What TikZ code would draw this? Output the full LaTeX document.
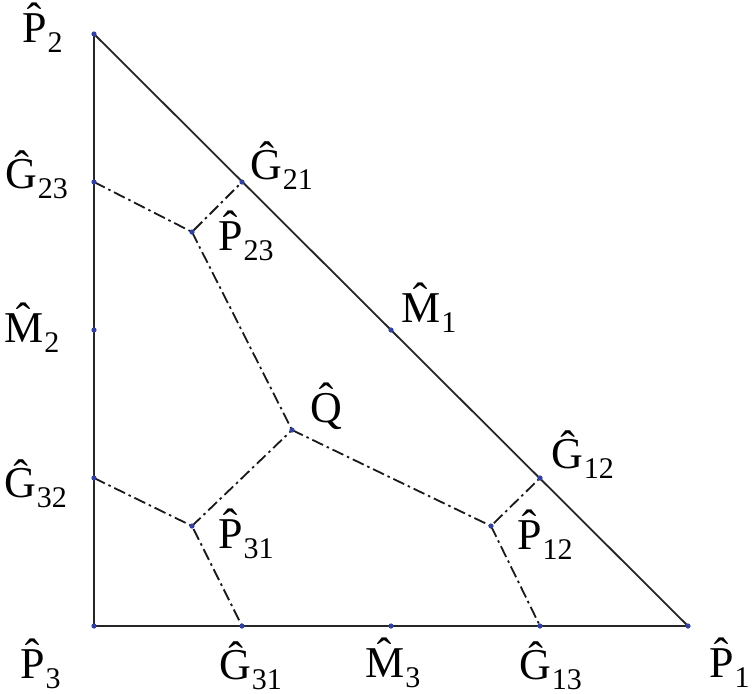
\documentclass[tikz,border=0pt]{standalone}
\usepackage{fontspec}
\setmainfont{Liberation Serif}
\definecolor{dotblue}{RGB}{50,65,160}
\newcommand{\hlbl}[2]{\^{#1}\kern1pt\raisebox{-10pt}{\fontsize{30}{30}\selectfont #2}}

\begin{document}
\begin{tikzpicture}[x=1pt,y=-1pt,
        side/.style={line width=1.8pt, black!85},
        ridge/.style={line width=1.8pt, black!90, dash pattern=on 12pt off 4pt on 2.5pt off 4pt},
        lbl/.style={anchor=base west, inner sep=0pt, font=\fontsize{44}{44}\selectfont}]
        \useasboundingbox (0,0) rectangle (753,694);

        % vertices
        \coordinate (P1) at (688,626);
        \coordinate (P2) at (94,34);
        \coordinate (P3) at (94,626);

        % points on the sides
        \coordinate (G23) at (94,182);
        \coordinate (M2)  at (94,330);
        \coordinate (G32) at (94,478);
        \coordinate (G21) at (242,182);
        \coordinate (M1)  at (391,330);
        \coordinate (G12) at (540,478);
        \coordinate (G31) at (242,626);
        \coordinate (M3)  at (391,626);
        \coordinate (G13) at (540,626);

        % inner points
        \coordinate (P23) at (192,232);
        \coordinate (Q)   at (292,430);
        \coordinate (P31) at (192,526);
        \coordinate (P12) at (491,526);

        \draw[side] (P2) -- (P3) -- (P1) -- cycle;

        \draw[ridge] (G23) -- (P23) -- (G21);
        \draw[ridge] (P23) -- (Q);
        \draw[ridge] (G32) -- (P31) -- (G31);
        \draw[ridge] (P31) -- (Q);
        \draw[ridge] (Q) -- (P12) -- (G12);
        \draw[ridge] (P12) -- (G13);

        \foreach \p in {P1,P2,P3,G23,M2,G32,G21,M1,G12,G31,M3,G13,P23,Q,P31,P12}
            \fill[dotblue] (\p) circle (2.6pt);

        % labels
        \node[lbl] (lP2)  at (22,42)   {\hlbl{P}{2}};
        \node[lbl] (lG23) at (5,188)   {\hlbl{G}{23}};
        \node[lbl] (lM2)  at (4,342)   {\hlbl{M}{2}};
        \node[lbl] (lG32) at (4,497)   {\hlbl{G}{32}};
        \node[lbl] (lP3)  at (20,678)  {\hlbl{P}{3}};
        \node[lbl] (lG21) at (250,179) {\hlbl{G}{21}};
        \node[lbl] (lP23) at (218,250) {\hlbl{P}{23}};
        \node[lbl] (lM1)  at (401,322) {\hlbl{M}{1}};
        \node[lbl] (lQ)   at (310,422) {\hlbl{Q}{}};
        \node[lbl] (lG12) at (551,468) {\hlbl{G}{12}};
        \node[lbl] (lP31) at (218,548) {\hlbl{P}{31}};
        \node[lbl] (lP12) at (517,549) {\hlbl{P}{12}};
        \node[lbl] (lG31) at (219,679) {\hlbl{G}{31}};
        \node[lbl] (lM3)  at (365,677) {\hlbl{M}{3}};
        \node[lbl] (lG13) at (519,679) {\hlbl{G}{13}};
        \node[lbl] (lP1)  at (709,677) {\hlbl{P}{1}};
    \end{tikzpicture}
\end{document}
